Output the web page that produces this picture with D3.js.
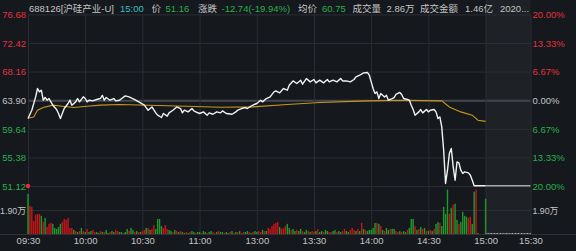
<!DOCTYPE html>
<html>
<head>
<meta charset="utf-8">
<script src="https://cdn.jsdelivr.net/npm/d3@7"></script>
<style>
  body { margin: 0; background: #15181d; }
  svg { display: block; }
  text { font-family: "Liberation Sans", "Noto Sans CJK SC", sans-serif; }
</style>
</head>
<body>
<script>
// Variables
const w = 576;
const h = 251;
const prevClose = 63.90;

// Ticks
const priceTicks = [76.68, 72.42, 68.16, 63.90, 59.64, 55.38, 51.12];
const pctTicks = ["20.00%", "13.33%", "6.67%", "0.00%", "6.67%", "13.33%", "20.00%"];
const timeTicks = [0, 30, 60, 90, 120, 150, 180, 210, 240, 270];
const timeLabels = ["09:30", "10:00", "10:30", "11:00", "13:00", "13:30", "14:00", "14:30", "15:00", "15:30"];
const volTick = 19000;

// Price line (minute index from 09:30, price)
const lineMin = [0, 2, 4, 5, 6, 7, 8, 9, 10, 11, 12, 13, 15, 16, 17, 18, 19, 21, 22, 23,
  25, 26, 27, 29, 30, 31, 32, 34, 36, 38, 39, 40, 41, 43, 45, 46, 48, 51, 53, 56,
  59, 61, 63, 65, 67, 68, 70, 71, 73, 74, 76, 78, 80, 81, 82, 84, 86, 87, 88, 90,
  92, 94, 95, 97, 99, 101, 102, 104, 107, 109, 110, 112, 114, 115, 117, 119, 120, 122, 123, 125,
  127, 129, 130, 132, 134, 136, 137, 139, 141, 143, 144, 146, 148, 150, 151, 153, 155, 157, 158, 160,
  162, 164, 165, 167, 169, 171, 172, 174, 176, 178, 179, 180, 181, 182, 183, 184, 185, 187, 188, 189,
  191, 192, 193, 195, 196, 197, 199, 200, 201, 202, 203, 205, 206, 207, 209, 210, 211, 213, 214, 215,
  216, 217, 218, 219, 220, 221, 222, 223, 224, 225, 226, 227, 228, 229, 231, 232, 233, 234, 240];
const linePrice = [61.17, 62.41, 64.39, 65.64, 65.14, 65.39, 63.90, 64.30, 63.90, 64.15, 63.65, 63.16, 62.51, 61.91, 61.17, 61.91, 62.66, 63.41, 63.90, 63.16,
  63.65, 64.15, 63.65, 64.40, 64.15, 63.65, 63.90, 63.80, 64.00, 64.15, 64.64, 63.90, 64.30, 63.90, 64.15, 63.80, 63.90, 64.54, 64.39, 64.00,
  63.50, 63.16, 62.41, 62.90, 62.01, 61.67, 61.32, 61.92, 61.52, 62.01, 62.41, 62.90, 62.66, 62.01, 62.41, 62.16, 62.66, 62.31, 62.16, 61.92,
  62.16, 61.67, 62.01, 61.81, 62.16, 62.01, 62.31, 61.92, 61.81, 62.16, 62.41, 62.66, 62.81, 62.66, 63.01, 63.30, 63.41, 63.90, 63.65, 64.15,
  64.39, 65.14, 65.29, 64.99, 65.64, 65.39, 66.13, 66.77, 66.39, 66.88, 66.28, 67.13, 66.63, 66.98, 66.48, 66.88, 66.48, 66.98, 66.63, 66.88,
  66.63, 67.13, 66.77, 66.77, 66.63, 66.98, 67.37, 67.62, 67.97, 68.03, 67.62, 66.63, 65.64, 64.90, 65.14, 64.15, 64.90, 64.39, 64.64, 63.90,
  64.15, 64.30, 64.75, 65.05, 64.75, 64.15, 64.00, 63.90, 63.16, 62.51, 61.67, 62.16, 62.51, 62.01, 62.51, 62.16, 62.41, 62.51, 62.16, 61.17,
  61.41, 59.92, 56.45, 51.49, 53.47, 55.96, 56.71, 53.97, 51.98, 54.71, 54.56, 53.47, 52.98, 53.22, 53.07, 52.73, 51.98, 51.16, 51.16];
const postMin = [240, 270];
const postPrice = [51.16, 51.16];

// Average price line
const avgMin = [0, 3, 5, 8, 13, 18, 24, 31, 38, 48, 83, 101, 118, 136, 153, 178, 195, 217, 221, 227, 233, 236, 240];
const avgPrice = [61.22, 61.41, 62.41, 62.81, 63.16, 63.01, 62.81, 63.01, 63.16, 63.26, 63.01, 62.86, 62.90, 63.26, 63.56, 63.80, 63.90, 63.80, 62.90, 62.16, 61.67, 60.92, 60.75];

// Volume per minute (0..240) and direction (u = up/red, d = down/green)
const volume = [
  32400, 22800, 22000, 10600, 15500, 16100, 16100, 14700, 9800, 13000, 5700, 8200, 9000, 8200, 4900, 4100, 5700, 8200, 9800, 12200, 11400, 13000, 4900, 4900, 3300, 2400, 1600, 2400, 4900, 2400,
  1600, 4100, 1600, 2400, 3300, 1600, 1600, 800, 2400, 1600, 1600, 3300, 800, 1600, 2400, 1600, 3300, 2400, 1600, 1600, 800, 1600, 4100, 2400, 4900, 3300, 1600, 2400, 1600, 1600,
  2400, 3300, 4900, 4900, 3300, 4100, 7300, 4100, 12200, 12200, 6500, 4900, 7300, 4100, 3300, 2400, 1600, 3300, 2400, 1600, 2400, 1600, 800, 1600, 800, 1600, 2400, 1600, 800, 1600,
  1600, 800, 2400, 1600, 800, 1600, 2400, 1600, 800, 1600, 2400, 1600, 1600, 800, 1600, 800, 1600, 2400, 800, 1600, 1600, 2400, 800, 1600, 1600, 2400, 1600, 800, 1600, 2400,
  1600, 2400, 1600, 3300, 2400, 2400, 4900, 4100, 6500, 8200, 9000, 9800, 5700, 4100, 4900, 6500, 8200, 4900, 3300, 4100, 2400, 3300, 2400, 4100, 2400, 1600, 3300, 2400, 1600, 2400,
  1600, 2400, 4100, 1600, 2400, 1600, 3300, 2400, 1600, 1600, 2400, 3300, 1600, 2400, 1600, 2400, 4100, 2400, 1600, 3300, 4900, 3300, 2400, 4100, 2400, 9000, 4100, 3300, 2400, 3300,
  3300, 4900, 9000, 9000, 8200, 6500, 3300, 2400, 4900, 3300, 4100, 4100, 4100, 2400, 1600, 2400, 1600, 2400, 1600, 3300, 4900, 12200, 12200, 6500, 3300, 4100, 5700, 4100, 4900, 2400,
  2400, 3300, 2400, 4100, 8200, 9800, 9000, 6500, 22000, 16300, 35900, 16300, 21200, 23600, 24500, 11400, 8200, 9800, 17900, 14700, 13900, 13000, 13900, 8200, 34200, 35900, 800, 0, 0, 0,
  28500];
const volDir = ("duuuuuudud" + "uuuddddduu" + "uuuudududu" +
  "dudduuddud" + "uddudduudd" + "udduddudud" +
  "uududuuddd" + "duuuddudud" + "uddududdud" +
  "duddudduud" + "udduddudud" + "uduuddudud" +
  "duududuuuu" + "uuduuuddud" + "dudduddudu" +
  "ududdudduu" + "ddudduuddu" + "uududududd" +
  "dddudududd" + "udduududdu" + "dddudududu" +
  "dududduddd" + "dududduddd" + "duuddudddd" + "d").split("");
const postVolume = [800, 600, 800, 800, 600, 800, 800, 800, 600, 800, 800, 600, 800, 800, 800, 600, 800, 800, 600, 800, 800, 800, 600, 800, 800, 600, 800, 800, 800, 600];

// Colors
const red = "#e2313d";
const green = "#2ab04a";
const redBar = "#c8141b";
const greenBar = "#1e9a2c";
const gridColor = "#2a2d33";
const labelGray = "#c4c4c4";

// SVG
const svg = d3.select("body")
  .append("svg")
  .attr("width", w)
  .attr("height", h);

// Escalas
const x = d3.scaleLinear().domain([0, 240, 270]).range([28, 485.6, 530.5]);
const y = d3.scaleLinear().domain([51.12, 76.68]).range([186, 14.4]);
const yv = d3.scaleLinear().domain([0, 38000]).range([234, 187]);

// Zona post-market
svg.append("rect")
  .attr("x", x(240))
  .attr("y", 0)
  .attr("width", x(270) - x(240))
  .attr("height", 234)
  .attr("fill", "#1e2125");

// Grid horizontal
const gridY = svg.append("g")
  .attr("transform", `translate(${x(0)},0)`)
  .call(d3.axisRight(y).tickValues(priceTicks).tickSize(x(270) - x(0)).tickFormat(""));
gridY.select(".domain").remove();
gridY.selectAll("line")
  .attr("stroke", d => d === prevClose ? "#45484e" : gridColor)
  .attr("stroke-width", d => d === prevClose ? 2 : 1);

svg.append("line")
  .attr("x1", x(0)).attr("x2", x(270))
  .attr("y1", yv(volTick)).attr("y2", yv(volTick))
  .attr("stroke", gridColor);

// Grid vertical
const gridX = svg.append("g")
  .attr("transform", `translate(0,${yv(0)})`)
  .call(d3.axisBottom(x).tickValues(timeTicks).tickSize(-(yv(0) - 14)).tickFormat(""));
gridX.select(".domain").remove();
gridX.selectAll("line").attr("stroke", gridColor);

// Base line
svg.append("line")
  .attr("x1", 0).attr("x2", w)
  .attr("y1", yv(0) + 0.5).attr("y2", yv(0) + 0.5)
  .attr("stroke", "#2e3137");

// Volumen
svg.append("g").selectAll("rect")
  .data(volume)
  .enter()
  .append("rect")
  .attr("x", (d, i) => x(i) - 0.7)
  .attr("y", d => yv(d))
  .attr("width", 1.4)
  .attr("height", d => yv(0) - yv(d))
  .attr("fill", (d, i) => volDir[i] === "u" ? redBar : greenBar);

svg.append("g").selectAll("rect")
  .data(postVolume)
  .enter()
  .append("rect")
  .attr("x", (d, i) => x(241 + i) - 0.5)
  .attr("y", d => yv(d))
  .attr("width", 1)
  .attr("height", d => yv(0) - yv(d))
  .attr("fill", "#b8b8b8");

// Lineas de precio
const avgData = avgMin.map((m, i) => [m, avgPrice[i]]);
const lineData = lineMin.map((m, i) => [m, linePrice[i]]);
const postData = postMin.map((m, i) => [m, postPrice[i]]);
const line = d3.line().x(d => x(d[0])).y(d => y(d[1]));

svg.append("path")
  .attr("d", line(avgData))
  .attr("fill", "none")
  .attr("stroke", "#c9961c")
  .attr("stroke-width", 1.1);

svg.append("path")
  .attr("d", line(postData))
  .attr("fill", "none")
  .attr("stroke", "#a8a8a8")
  .attr("stroke-width", 1.4);

svg.append("path")
  .attr("d", line(lineData))
  .attr("fill", "none")
  .attr("stroke", "#f2f2f2")
  .attr("stroke-width", 1.4)
  .attr("stroke-linejoin", "round");

// Punto inicial
svg.append("circle")
  .attr("cx", x(0))
  .attr("cy", y(51.12))
  .attr("r", 2.2)
  .attr("fill", "#f0283a");

// Eje izquierdo (precios)
const colorFor = v => v > prevClose ? red : (v < prevClose ? green : labelGray);
const yAxisL = svg.append("g")
  .attr("transform", `translate(${x(0) - 1},0)`)
  .call(d3.axisLeft(y).tickValues(priceTicks).tickSize(0).tickPadding(1).tickFormat(d3.format(".2f")));
yAxisL.select(".domain").remove();
yAxisL.selectAll("text")
  .attr("fill", d => colorFor(d))
  .style("font-size", "9.5px")
  .attr("dy", "0.35em");

// Eje derecho (porcentaje)
const yAxisR = svg.append("g")
  .attr("transform", `translate(${x(270) + 1},0)`)
  .call(d3.axisRight(y).tickValues(priceTicks).tickSize(0).tickPadding(1).tickFormat((d, i) => pctTicks[i]));
yAxisR.select(".domain").remove();
yAxisR.selectAll("text")
  .attr("fill", d => colorFor(d))
  .style("font-size", "9.5px")
  .attr("dy", "0.35em");

// Etiquetas volumen
svg.append("text")
  .attr("x", x(0) - 2)
  .attr("y", yv(volTick))
  .attr("dy", "0.35em")
  .attr("text-anchor", "end")
  .attr("fill", labelGray)
  .style("font-size", "8.8px")
  .text("1.90万");
svg.append("text")
  .attr("x", x(270) + 2)
  .attr("y", yv(volTick))
  .attr("dy", "0.35em")
  .attr("fill", labelGray)
  .style("font-size", "8.8px")
  .text("1.90万");

// Eje X (tiempo)
const xAxis = svg.append("g")
  .attr("transform", `translate(0,${yv(0)})`)
  .call(d3.axisBottom(x).tickValues(timeTicks).tickSize(0).tickPadding(3).tickFormat((d, i) => timeLabels[i]));
xAxis.select(".domain").remove();
xAxis.selectAll("text")
  .attr("fill", labelGray)
  .style("font-size", "9.5px");

// Encabezado
const header = [
  ["688126[沪硅产业-U]", labelGray, 29],
  ["15:00", "#3bbfc6", 120],
  ["价", labelGray, 151.5],
  ["51.16", green, 165.5],
  ["涨跌", labelGray, 198],
  ["-12.74(-19.94%)", green, 221.5],
  ["均价", labelGray, 298],
  ["60.75", green, 322],
  ["成交量", labelGray, 352.5],
  ["2.86万", labelGray, 386.5],
  ["成交金额", labelGray, 420],
  ["1.46亿", labelGray, 465],
  ["2020...", labelGray, 500]
];
svg.append("g").selectAll("text")
  .data(header)
  .enter()
  .append("text")
  .attr("x", d => d[2])
  .attr("y", 11.5)
  .attr("fill", d => d[1])
  .style("font-size", "9.5px")
  .text(d => d[0]);
</script>
</body>
</html>
